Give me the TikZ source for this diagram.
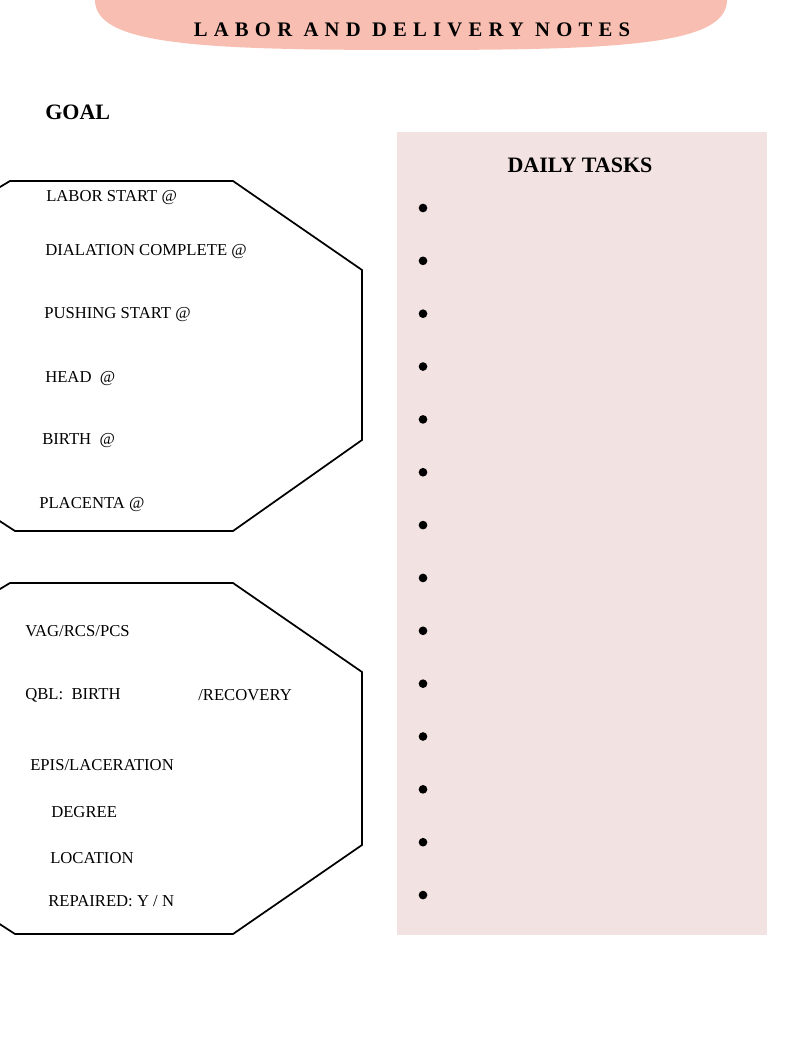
\documentclass[tikz,border=0pt]{standalone}
\usepackage{fontspec}
\setmainfont{Liberation Serif}
\begin{document}
\begin{tikzpicture}[x=0.75pt,y=-0.75pt,
  lbl/.style={anchor=west,inner sep=0pt,font=\fontsize{12.5}{14}\selectfont},
  oct/.style={draw=black,line width=1.3pt},
  bul/.style={circle,fill=black,inner sep=0pt,minimum size=6.5pt}]
\useasboundingbox (0,0) rectangle (794,1059);
\fill[white] (0,0) rectangle (794,1059);
% header blob
\fill[fill={rgb,255:red,249;green,190;blue,178}] (95,0) .. controls (95,45) and (200,50) .. (412,50) .. controls (620,50) and (727,45) .. (727,0) -- cycle;
\node (title) at (412,30) {\fontsize{15.5}{18}\selectfont\bfseries\addfontfeature{LetterSpace=30}LABOR AND DELIVERY NOTES};
\node[anchor=west,inner sep=0pt] (goal) at (45,112) {\fontsize{16.5}{18}\selectfont\bfseries GOAL};
% octagons
\draw[oct] (-5,190) -- (10,181) -- (233,181) -- (362,270) -- (362,440) -- (233,531) -- (15,531) -- (-5,518);
\draw[oct] (-5,592) -- (10,583) -- (233,583) -- (362,672) -- (362,845) -- (233,934) -- (15,934) -- (-5,921);
% texts box 1
\node[lbl] (t1) at (46,198) {LABOR START @};
\node[lbl] (t2) at (45,252) {DIALATION COMPLETE @};
\node[lbl] (t3) at (44,315) {PUSHING START @};
\node[lbl] (t4) at (45,379) {HEAD\ \ @};
\node[lbl] (t5) at (42,441) {BIRTH\ \ @};
\node[lbl] (t6) at (39,505) {PLACENTA @};
% texts box 2
\node[lbl] (u1) at (25,631) {VAG/RCS/PCS};
\node[lbl] (u2) at (25,695) {QBL:\ \ BIRTH};
\node[lbl] (u2b) at (198,695) {/RECOVERY};
\node[lbl] (u3) at (30,765) {EPIS/LACERATION};
\node[lbl] (u4) at (51,812) {DEGREE};
\node[lbl] (u5) at (50,858) {LOCATION};
\node[lbl] (u6) at (48,901) {REPAIRED: Y / N};
% tasks panel
\fill[fill={rgb,255:red,242;green,226;blue,225}] (397,132) rectangle (767,935);
\node (dt) at (580,165) {\fontsize{16.5}{18}\selectfont\bfseries DAILY TASKS};
\foreach \i in {0,...,13} {
  \node[bul] (b\i) at (423,{208+52.85*\i}) {};
}
\end{tikzpicture}
\end{document}
